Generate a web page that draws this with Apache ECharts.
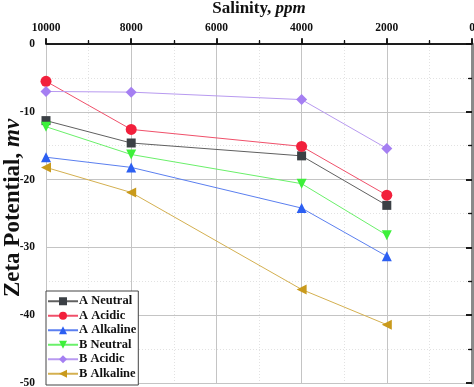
<!DOCTYPE html>
<html><head><meta charset="utf-8">
<script src="https://cdn.jsdelivr.net/npm/echarts@6/dist/echarts.min.js"></script>
<style>html,body{margin:0;padding:0;background:#fff}#c{width:474px;height:387px}</style>
</head><body><div id="c"></div>
<script>
const salinity = [10000, 8000, 4000, 2000];
const seriesNames = ['A Neutral', 'A Acidic', 'A Alkaline', 'B Neutral', 'B Acidic', 'B Alkaline'];
const aNeutral  = [-11.3, -14.6, -16.5, -23.8];
const aAcidic   = [-5.5, -12.6, -15.1, -22.3];
const aAlkaline = [-16.7, -18.2, -24.2, -31.3];
const bNeutral  = [-12.2, -16.3, -20.6, -28.2];
const bAcidic   = [-7.0, -7.1, -8.2, -15.4];
const bAlkaline = [-18.2, -21.9, -36.2, -41.4];
const xTicks = [10000, 8000, 6000, 4000, 2000, 0];
const yTicks = [0, -10, -20, -30, -40, -50];

const values = [aNeutral, aAcidic, aAlkaline, bNeutral, bAcidic, bAlkaline];
const symbolColors = ['#3b4045', '#f2203c', '#2c5ff2', '#3df03a', '#a57ff2', '#c99a1c'];
const lineColors = ['#606060', '#f0506a', '#5b7ff0', '#6af06a', '#b89af0', '#d4b050'];
const symbols = ['rect', 'circle', 'triangle', 'triangle', 'diamond', 'triangle'];
const rotates = [0, 0, 0, 180, 0, 90];
const sizes = [9, 11, 10, 10, 11, 10];

const serif = 'Liberation Serif';
const chart = echarts.init(document.getElementById('c'), null, {renderer: 'canvas'});

const series = seriesNames.map((n, i) => ({
  name: n, type: 'line',
  data: salinity.map((s, j) => [s, values[i][j]]),
  symbol: symbols[i], symbolRotate: rotates[i], symbolSize: sizes[i],
  lineStyle: {color: lineColors[i], width: 1},
  itemStyle: {color: symbolColors[i], opacity: 1},
  color: symbolColors[i],
  z: 5
}));

chart.setOption({
  animation: false,
  backgroundColor: '#fff',
  grid: {left: 46, right: 2, top: 44, bottom: 4, containLabel: false, outerBoundsMode: 'none'},
  xAxis: [{
    type: 'value', position: 'top', inverse: true, min: 0, max: 10000, interval: 2000,
    name: '{b|Salinity, }{i|ppm}', nameLocation: 'middle', nameGap: 27,
    nameTextStyle: {rich: {
      b: {fontFamily: serif, fontWeight: 'bold', fontSize: 17, color: '#111'},
      i: {fontFamily: serif, fontWeight: 'bold', fontStyle: 'italic', fontSize: 17, color: '#111'}
    }},
    axisLine: {show: true, lineStyle: {color: '#111', width: 1.5}},
    axisTick: {show: true, inside: false, length: 5, lineStyle: {color: '#111', width: 1.5}},
    minorTick: {show: true, splitNumber: 2, length: 3, lineStyle: {color: '#111', width: 1.2}},
    axisLabel: {fontFamily: serif, fontWeight: 'bold', fontSize: 11.5, color: '#111', margin: 10,
      formatter: v => xTicks.includes(v) ? String(v) : ''},
    splitLine: {show: true, lineStyle: {color: '#c4c4c4', width: 1}},
    minorSplitLine: {show: true, lineStyle: {color: '#e2e2e2', width: 1, type: [1, 2]}}
  }, {
    type: 'value', position: 'bottom', inverse: true, min: 0, max: 10000, interval: 2000,
    axisLine: {show: true, lineStyle: {color: '#111', width: 1.5}},
    axisTick: {show: true, inside: true, length: 6, lineStyle: {color: '#111', width: 1.5}},
    minorTick: {show: true, splitNumber: 2, length: 4, lineStyle: {color: '#111', width: 1.2}},
    axisLabel: {show: false}, splitLine: {show: false}
  }],
  yAxis: [{
    type: 'value', min: -50, max: 0, interval: 10,
    axisLine: {show: true, lineStyle: {color: '#111', width: 1.5}},
    axisTick: {show: true, inside: false, length: 6, lineStyle: {color: '#111', width: 1.5}},
    minorTick: {show: true, splitNumber: 2, length: 3, lineStyle: {color: '#111', width: 1.2}},
    axisLabel: {fontFamily: serif, fontWeight: 'bold', fontSize: 11.5, color: '#111', margin: 11,
      formatter: v => yTicks.includes(v) ? String(v) : ''},
    splitLine: {show: true, lineStyle: {color: '#c4c4c4', width: 1}},
    minorSplitLine: {show: true, lineStyle: {color: '#e2e2e2', width: 1, type: [1, 2]}}
  }, {
    type: 'value', position: 'right', min: -50, max: 0, interval: 10,
    axisLine: {show: true, lineStyle: {color: '#8a8a8a', width: 3}},
    axisTick: {show: true, inside: true, length: 6, lineStyle: {color: '#111', width: 1.5}},
    minorTick: {show: true, splitNumber: 2, length: 4, lineStyle: {color: '#111', width: 1.2}},
    axisLabel: {show: false}, splitLine: {show: false}
  }],
  legend: {
    orient: 'vertical', left: 46, top: 291,
    data: seriesNames,
    backgroundColor: '#fff', borderColor: '#444', borderWidth: 1,
    padding: [3, 2, 4, 1], itemGap: 0, itemWidth: 30, itemHeight: 10,
    textStyle: {fontFamily: serif, fontWeight: 'bold', fontSize: 12.5, color: '#111', lineHeight: 14.5, padding: [0, 0, 0, -4]}
  },
  graphic: [{
    type: 'text', x: 13, y: 208, rotation: Math.PI / 2,
    style: {
      text: '{b|Zeta Potential, }{i|mv}', align: 'center', verticalAlign: 'middle',
      rich: {
        b: {fontFamily: serif, fontWeight: 'bold', fontSize: 23, fill: '#111'},
        i: {fontFamily: serif, fontWeight: 'bold', fontStyle: 'italic', fontSize: 23, fill: '#111'}
      }
    }
  }],
  series: series
});
</script></body></html>
